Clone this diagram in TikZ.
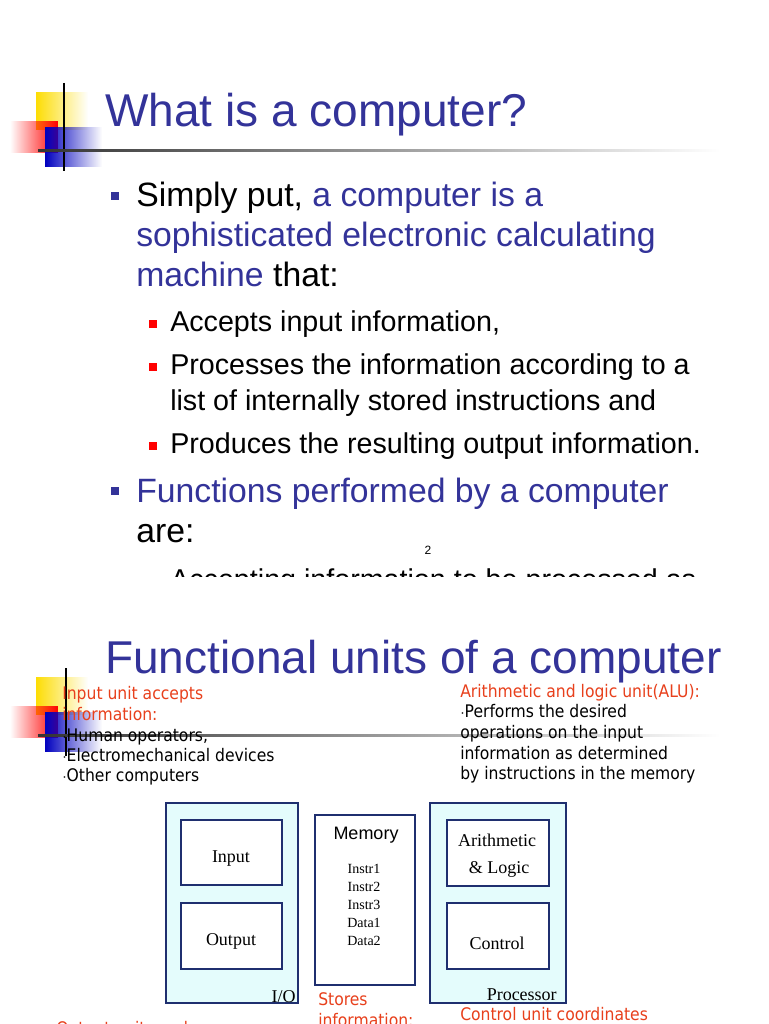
\documentclass[tikz,border=0pt]{standalone}
\usepackage{fontspec}
\setmainfont{Liberation Sans}
\newfontfamily\serifx{Liberation Serif}
\newfontfamily\comic{DejaVu Sans Condensed}
\usetikzlibrary{fadings}
\definecolor{ttl}{HTML}{333399}
\definecolor{lbl}{HTML}{E8401C}
\definecolor{boxb}{HTML}{1F2F6F}
\definecolor{cyanf}{HTML}{E4FCFC}
\tikzset{
 title/.style={anchor=base west,font=\fontsize{34.5}{38}\selectfont,text=ttl,inner sep=0},
 body/.style={anchor=base west,font=\fontsize{25.3}{30}\selectfont,inner sep=0},
 sub/.style={anchor=base west,font=\fontsize{21.5}{26}\selectfont,inner sep=0},
 lab/.style={anchor=base west,font=\comic\fontsize{13}{15}\selectfont,inner sep=0},
 outerbox/.style={draw=boxb,line width=1.2pt,fill=cyanf},
 innerbox/.style={draw=boxb,line width=1.2pt,fill=white},
 tnr/.style={font=\serifx\fontsize{13.5}{15}\selectfont,inner sep=0},
 bul/.style={fill=ttl,minimum size=6.5pt,inner sep=0},
 rbul/.style={fill=red,minimum size=5.5pt,inner sep=0}
}
\newcommand{\logo}[2]{%
 \fill[yellow!80!orange,path fading=east] (36,#1+9) rectangle (88,#1+47);
 \fill[red,path fading=west] (10,#1+38) rectangle (58,#1+70);
 \fill[blue!75!black,path fading=east] (45,#1+44) rectangle (102,#1+84);
 \draw[line width=1.5pt] (#2,#1) -- (#2,#1+88);
 \shade[left color=black!80,right color=white] (38,#1+66.5) rectangle (720,#1+68.5);
}
\begin{document}
\begin{tikzpicture}[x=0.75pt,y=-0.75pt]
\useasboundingbox (0,0) rectangle (768,1024);
\fill[white] (0,0) rectangle (768,1024);
% slide 1
\logo{83}{64}
\node[title] (t1) at (105,126) {What is a computer?};
\node[bul] (b1) at (115,196) {};
\node[body] (l1) at (136,206) {Simply put, \textcolor{ttl}{a computer is a}};
\node[body,text=ttl] (l2) at (136,246) {sophisticated electronic calculating};
\node[body] (l3) at (136,286) {\textcolor{ttl}{machine} that:};
\node[rbul] (r1) at (153,324) {};
\node[sub] (s1) at (170,331) {Accepts input information,};
\node[rbul] (r2) at (153,367) {};
\node[sub] (s2) at (170,374) {Processes the information according to a};
\node[sub] (s3) at (170,410) {list of internally stored instructions and};
\node[rbul] (r3) at (153,446) {};
\node[sub] (s4) at (170,453) {Produces the resulting output information.};
\node[bul] (b2) at (115,491) {};
\node[body,text=ttl] (l4) at (136,502) {Functions performed by a computer};
\node[body] (l5) at (136,542) {are:};
\node[font=\fontsize{9}{10}\selectfont] (pg) at (428,550) {2};
\node[sub] (s5) at (170,589) {Accepting information to be processed as};
\fill[white] (0,577) rectangle (768,640);
% slide 2
\logo{668}{66}
\node[title] (t2) at (105,673) {Functional units of a computer};
\node[lab,text=lbl] (a1) at (62,699) {Input unit accepts};
\node[lab,text=lbl] (a2) at (62,720) {information:};
\node[lab] (a3) at (62,741) {$\cdot$Human operators,};
\node[lab] (a4) at (62,761) {$\cdot$Electromechanical devices};
\node[lab] (a5) at (62,781) {$\cdot$Other computers};
\node[lab,text=lbl] (c1) at (460,697) {Arithmetic and logic unit(ALU):};
\node[lab] (c2) at (460,717) {$\cdot$Performs the desired};
\node[lab] (c3) at (460,738) {operations on the input};
\node[lab] (c4) at (460,759) {information as determined};
\node[lab] (c5) at (460,779) {by instructions in the memory};
% boxes
\draw[outerbox] (166,803) rectangle (298,1003);
\draw[innerbox] (181,820) rectangle (282,885);
\draw[innerbox] (181,903) rectangle (282,969);
\node[tnr] (in) at (231,859) {Input};
\node[tnr] (out) at (231,941) {Output};
\node[tnr,anchor=base east] (io) at (296,1002) {I/O};
\draw[innerbox,line width=0.9pt] (315,815) rectangle (415,985);
\node[font=\fontsize{13.5}{15}\selectfont] (mem) at (366,835) {Memory};
\node[font=\serifx\fontsize{10.5}{13.5}\selectfont,align=center] (ins) at (364,905) {Instr1\\Instr2\\Instr3\\Data1\\Data2};
\draw[outerbox] (430,803) rectangle (566,1003);
\draw[innerbox] (447,820) rectangle (549,886);
\draw[innerbox] (447,903) rectangle (549,969);
\node[tnr] (ar) at (497,840) {Arithmetic};
\node[tnr] (lg) at (499,869) {\& Logic};
\node[tnr] (ct) at (497,943) {Control};
\node[tnr,anchor=base east] (pr) at (557,1000) {Processor};
\node[lab,text=lbl] (m1) at (318,1005) {Stores};
\node[lab,text=lbl] (m2) at (318,1026) {information:};
\node[lab,text=lbl] (k1) at (460,1020) {Control unit coordinates};
\node[lab,text=lbl] (o1) at (56,1034) {Output unit sends};
\end{tikzpicture}
\end{document}
